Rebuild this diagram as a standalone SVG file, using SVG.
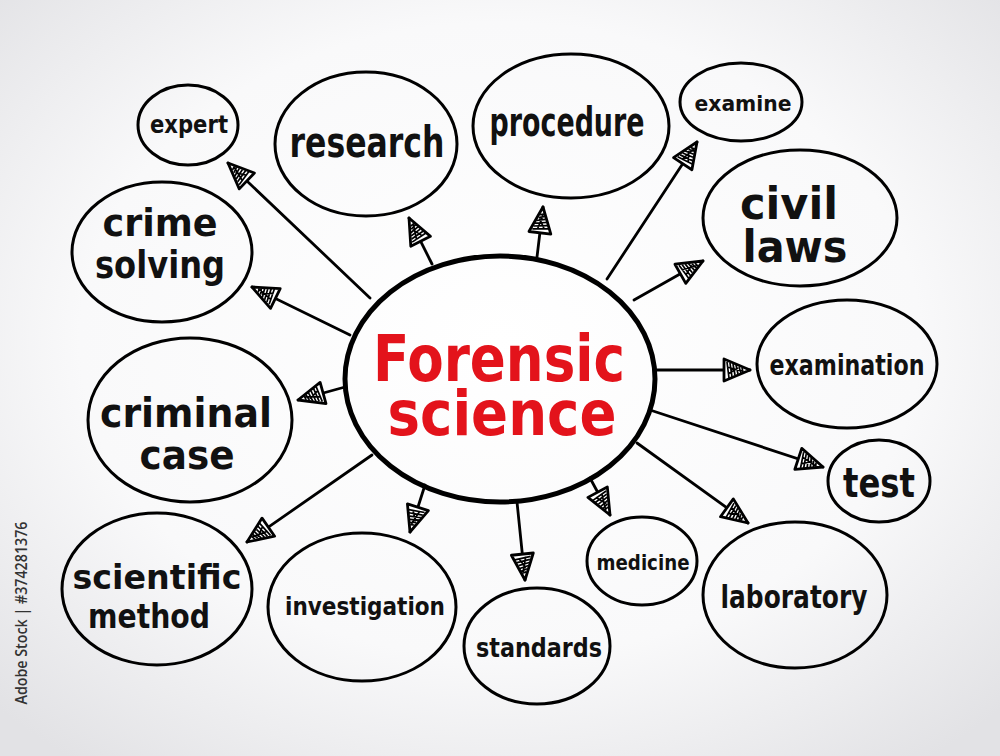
<svg xmlns="http://www.w3.org/2000/svg" width="1000" height="756" viewBox="0 0 1000 756">
<defs>
<radialGradient id="bg" cx="50%" cy="45%" r="70%">
<stop offset="0" stop-color="#ffffff"/>
<stop offset="0.6" stop-color="#f9f9fa"/>
<stop offset="1" stop-color="#e2e2e5"/>
</radialGradient>
<marker id="ah" markerUnits="userSpaceOnUse" markerWidth="32" markerHeight="28" viewBox="-5 -14 32 28" refX="24" refY="0" orient="auto">
<path d="M-2,-11 L24,0 L-2,11 Z" fill="#fff" stroke="#000" stroke-width="2.8" stroke-linejoin="round"/>
<path d="M1,-8 L3,8 M4,-7 L6,7 M7,-6 L9,5 M10,-5 L12,4 M13,-3 L15,3 M16,-2 L17,2 M1,-3 L16,1 M2,4 L12,-2" fill="none" stroke="#000" stroke-width="1.7"/>
</marker>
<style>
.n{fill:none;stroke:#000;stroke-width:3}
.c{fill:none;stroke:#000;stroke-width:5}
.t{font-family:"DejaVu Sans","Liberation Sans",sans-serif;font-weight:bold;fill:#111;text-anchor:middle}
.r{font-family:"DejaVu Sans","Liberation Sans",sans-serif;font-weight:bold;fill:#e3131b;text-anchor:middle}
.l{fill:none;stroke:#000;stroke-width:2.8;stroke-linecap:round;marker-end:url(#ah)}
</style>
</defs>
<rect width="1000" height="756" fill="url(#bg)"/>
<text x="22" y="613" transform="rotate(-90 22 613)" font-family="Open Sans, Liberation Sans, sans-serif" font-size="17" font-weight="600" fill="#333" text-anchor="middle" dominant-baseline="middle" textLength="183" lengthAdjust="spacingAndGlyphs">Adobe Stock | #374281376</text>

<g id="connectors">
<line class="l" x1="370" y1="298" x2="228" y2="163"/>
<line class="l" x1="432" y1="264" x2="409" y2="218"/>
<line class="l" x1="537" y1="257" x2="543" y2="207"/>
<line class="l" x1="607" y1="279" x2="697" y2="142"/>
<line class="l" x1="634" y1="300" x2="703" y2="261"/>
<line class="l" x1="350" y1="335" x2="252" y2="287"/>
<line class="l" x1="345" y1="387" x2="298" y2="400"/>
<line class="l" x1="655" y1="370" x2="750" y2="370"/>
<line class="l" x1="650" y1="410" x2="823" y2="467"/>
<line class="l" x1="637" y1="443" x2="748" y2="523"/>
<line class="l" x1="590" y1="478" x2="610" y2="515"/>
<line class="l" x1="517" y1="502" x2="525" y2="580"/>
<line class="l" x1="425" y1="485" x2="410" y2="532"/>
<line class="l" x1="372" y1="455" x2="247" y2="542"/>
</g>

<g id="center">
<ellipse class="c" cx="500" cy="379" rx="155" ry="123"/>
<text class="r" x="499" y="381" font-size="64" textLength="252" lengthAdjust="spacingAndGlyphs">Forensic</text>
<text class="r" x="502" y="435" font-size="62" textLength="229" lengthAdjust="spacingAndGlyphs">science</text>
</g>

<g id="expert">
<ellipse class="n" cx="188" cy="125" rx="50" ry="40"/>
<text class="t" x="189" y="133" font-size="24" textLength="78" lengthAdjust="spacingAndGlyphs">expert</text>
</g>
<g id="research">
<ellipse class="n" cx="366" cy="144" rx="91" ry="72"/>
<text class="t" x="367" y="157" font-size="42" textLength="155" lengthAdjust="spacingAndGlyphs">research</text>
</g>
<g id="procedure">
<ellipse class="n" cx="571" cy="126" rx="98" ry="72"/>
<text class="t" x="567" y="136" font-size="40" textLength="155" lengthAdjust="spacingAndGlyphs">procedure</text>
</g>
<g id="examine">
<ellipse class="n" cx="741" cy="102" rx="61" ry="39"/>
<text class="t" x="743" y="111" font-size="22" textLength="97" lengthAdjust="spacingAndGlyphs">examine</text>
</g>
<g id="civil-laws">
<ellipse class="n" cx="800" cy="218" rx="97" ry="68"/>
<text class="t" x="789" y="219" font-size="44" textLength="98" lengthAdjust="spacingAndGlyphs">civil</text>
<text class="t" x="795" y="262" font-size="44" textLength="105" lengthAdjust="spacingAndGlyphs">laws</text>
</g>
<g id="crime-solving">
<ellipse class="n" cx="162" cy="252" rx="90" ry="70"/>
<text class="t" x="160" y="236" font-size="37" textLength="115" lengthAdjust="spacingAndGlyphs">crime</text>
<text class="t" x="160" y="278" font-size="37" textLength="130" lengthAdjust="spacingAndGlyphs">solving</text>
</g>
<g id="examination">
<ellipse class="n" cx="847" cy="364" rx="90" ry="64"/>
<text class="t" x="847" y="375" font-size="28" textLength="155" lengthAdjust="spacingAndGlyphs">examination</text>
</g>
<g id="criminal-case">
<ellipse class="n" cx="190" cy="420" rx="102" ry="82"/>
<text class="t" x="186" y="427" font-size="40" textLength="172" lengthAdjust="spacingAndGlyphs">criminal</text>
<text class="t" x="187" y="469" font-size="40" textLength="95" lengthAdjust="spacingAndGlyphs">case</text>
</g>
<g id="test">
<ellipse class="n" cx="879" cy="481" rx="51" ry="41"/>
<text class="t" x="879" y="497" font-size="40" textLength="72" lengthAdjust="spacingAndGlyphs">test</text>
</g>
<g id="scientific-method">
<ellipse class="n" cx="157" cy="589" rx="95" ry="76"/>
<text class="t" x="157" y="589" font-size="33" textLength="169" lengthAdjust="spacingAndGlyphs">scientific</text>
<text class="t" x="149" y="628" font-size="33" textLength="122" lengthAdjust="spacingAndGlyphs">method</text>
</g>
<g id="investigation">
<ellipse class="n" cx="362" cy="607" rx="94" ry="74"/>
<text class="t" x="365" y="615" font-size="24" textLength="160" lengthAdjust="spacingAndGlyphs">investigation</text>
</g>
<g id="standards">
<ellipse class="n" cx="537" cy="646" rx="73" ry="58"/>
<text class="t" x="539" y="657" font-size="26" textLength="126" lengthAdjust="spacingAndGlyphs">standards</text>
</g>
<g id="medicine">
<ellipse class="n" cx="642" cy="561" rx="55" ry="44"/>
<text class="t" x="643" y="570" font-size="22" textLength="93" lengthAdjust="spacingAndGlyphs">medicine</text>
</g>
<g id="laboratory">
<ellipse class="n" cx="795" cy="595" rx="92" ry="73"/>
<text class="t" x="794" y="608" font-size="32" textLength="147" lengthAdjust="spacingAndGlyphs">laboratory</text>
</g>
</svg>
